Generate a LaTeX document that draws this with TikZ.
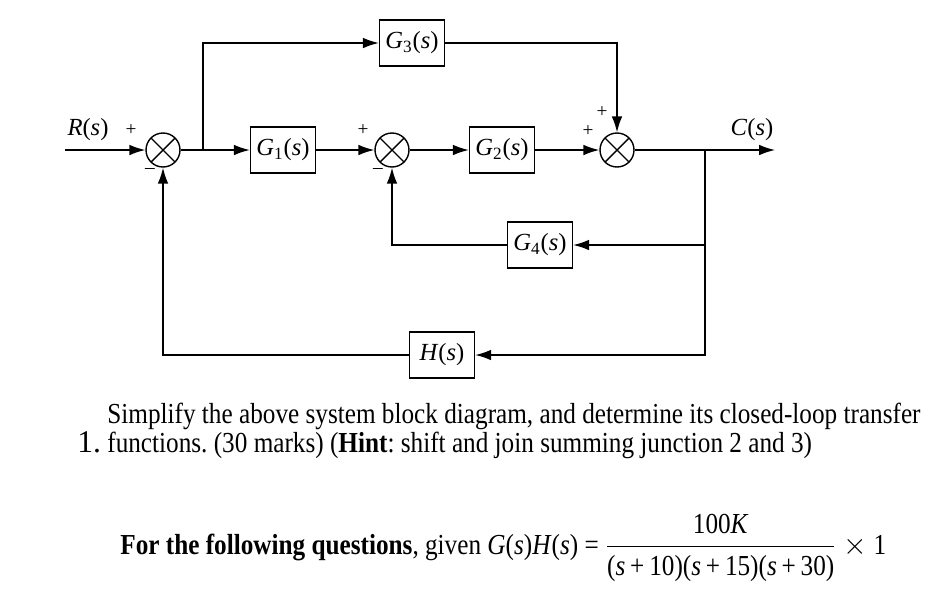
\documentclass[tikz,border=0pt]{standalone}
\usepackage{amsmath}
\usepackage{fontspec}
\setmainfont{Liberation Serif}
\newfontfamily\narrow{Liberation Serif}[FakeStretch=0.87]
\usetikzlibrary{arrows.meta}
\newcommand{\tf}[2]{\textit{#1}\textsubscript{#2}(\textit{s})}
\newcommand{\nt}[1]{\text{\narrow #1}}
\frenchspacing
\begin{document}
\begin{tikzpicture}[x=0.02cm,y=-0.02cm,
  blk/.style={draw,thick,minimum width=1.3cm,minimum height=0.92cm,inner sep=0pt,font=\fontsize{14}{16}\selectfont},
  sumj/.style={draw,thick,circle,minimum size=0.68cm,inner sep=0pt,path picture={
      \draw[thick] (path picture bounding box.south west)--(path picture bounding box.north east)
      (path picture bounding box.north west)--(path picture bounding box.south east);}},
  sig/.style={-{Latex[length=9pt,width=6pt]},thick},
  ln/.style={thick},
  sg/.style={font=\fontsize{11}{12}\selectfont}]
\useasboundingbox (0,0) rectangle (929,606);
\node[sumj] (s1) at (163,150) {};
\node[sumj] (s2) at (392,150) {};
\node[sumj] (s3) at (617,150) {};
\node[blk] (g1) at (283,150) {\tf{G}{1}};
\node[blk] (g2) at (502,150) {\tf{G}{2}};
\node[blk] (g3) at (412,43) {\tf{G}{3}};
\node[blk] (g4) at (540,245) {\tf{G}{4}};
\node[blk] (h) at (442,355) {\textit{H}(\textit{s})};
\coordinate (in) at (65,150);
\coordinate (out) at (775,150);
\coordinate (b1) at (203,150);
\coordinate (b2) at (705,150);
\node[font=\fontsize{14}{16}\selectfont] (rl) at (88,130) {\textit{R}(\textit{s})};
\node[font=\fontsize{14}{16}\selectfont] (cl) at (752,130) {\textit{C}(\textit{s})};
\draw[sig] (in) -- (s1);
\draw[ln] (s1) -- (b1);
\draw[sig] (b1) -- (g1);
\draw[sig] (b1) |- (g3);
\draw[sig] (g3) -| (s3);
\draw[sig] (g1) -- (s2);
\draw[sig] (s2) -- (g2);
\draw[sig] (g2) -- (s3);
\draw[sig] (s3) -- (out);
\draw[sig] (b2) |- (g4);
\draw[sig] (b2) |- (h);
\draw[sig] (g4) -| (s2);
\draw[sig] (h) -| (s1);
\node[sg] (p1) at (131,130) {+};
\node[sg] (m1) at (150,171) {--};
\node[sg] (p2) at (363,130) {+};
\node[sg] (m2) at (378,171) {--};
\node[sg] (p3) at (602,112) {+};
\node[sg] (p4) at (588,131) {+};
\node[anchor=base west,inner sep=0pt,font=\fontsize{18}{20}\selectfont] (n1) at (77,452) {1.};
\node[anchor=base west,align=left,inner sep=0pt,font=\narrow\fontsize{16.5}{16}\selectfont] (t1) at (107,452)
  {Simplify the above system block diagram, and determine its closed-loop transfer\\
   functions. (30 marks) (\textbf{Hint}: shift and join summing junction 2 and 3)};
\node[anchor=west,inner sep=0pt,font=\narrow\fontsize{16.5}{18}\selectfont] (t2) at (120,548)
  {\textbf{For the following questions}, given \textit{G}(\textit{s})\textit{H}(\textit{s}) =
   $\dfrac{\nt{100\textit{K}}}{\nt{(\textit{s}\,+\,10)(\textit{s}\,+\,15)(\textit{s}\,+\,30)}}\times\nt{1}$};
\end{tikzpicture}
\end{document}
